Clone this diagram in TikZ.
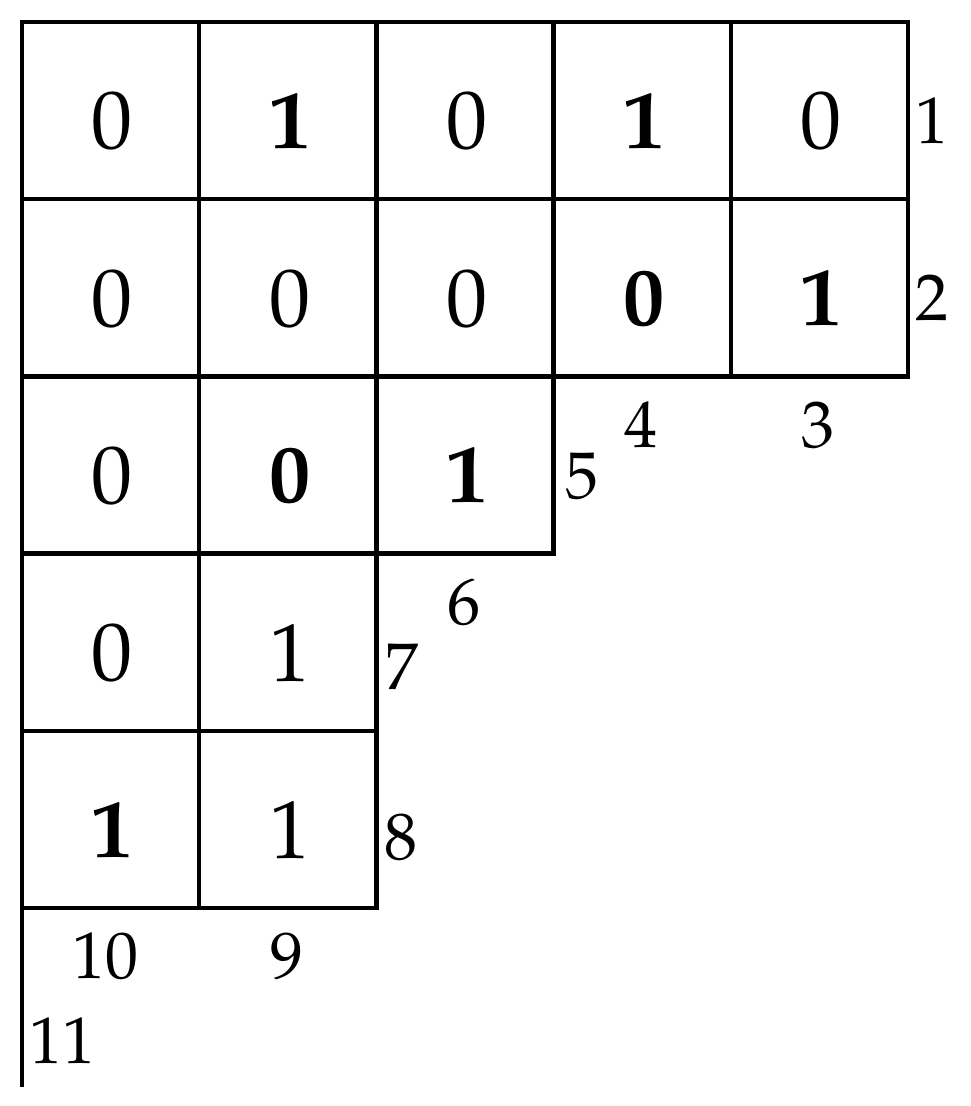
\documentclass[tikz,border=0pt]{standalone}
\usepackage[T1]{fontenc}
\usepackage{mathpazo}
\usepackage{tikz}
\usetikzlibrary{positioning}
\tikzstyle{cell} = [inner sep=0pt, font=\fontsize{13.2}{15}\selectfont]
\tikzstyle{hit} = [cell, font=\fontsize{13.2}{15}\selectfont\bfseries]
\tikzstyle{edgelabel} = [inner sep=0pt, font=\fontsize{10.6}{12}\selectfont]
\tikzstyle{rim} = [line width=0.7pt, line cap=rect]

\begin{document}
\begin{tikzpicture}
		\useasboundingbox (-0.124,0.124) rectangle (5.350,-6.117);
		
		% shape of the diagram
		\draw [rim] (0,0) -- (5,0) -- (5,-2) -- (3,-2) -- (3,-3) -- (2,-3) -- (2,-5) -- (0,-5);
		\draw [rim] (0,0) -- (0,-6);
		\draw [rim] (0,-1) -- (5,-1);
		\draw [rim] (0,-2) -- (3,-2);
		\draw [rim] (0,-3) -- (2,-3);
		\draw [rim] (0,-4) -- (2,-4);
		\draw [rim] (1,0) -- (1,-5);
		\draw [rim] (2,0) -- (2,-3);
		\draw [rim] (3,0) -- (3,-2);
		\draw [rim] (4,0) -- (4,-2);
		
		% entries
		\node (c11) [cell] at (0.51,-0.56) {0};
		\node (c12) [hit] at (1.51,-0.56) {1};
		\node (c13) [cell] at (2.51,-0.56) {0};
		\node (c14) [hit] at (3.51,-0.56) {1};
		\node (c15) [cell] at (4.51,-0.56) {0};
		\node (c21) [cell] at (0.51,-1.56) {0};
		\node (c22) [cell] at (1.51,-1.56) {0};
		\node (c23) [cell] at (2.51,-1.56) {0};
		\node (c24) [hit] at (3.51,-1.56) {0};
		\node (c25) [hit] at (4.51,-1.56) {1};
		\node (c31) [cell] at (0.51,-2.56) {0};
		\node (c32) [hit] at (1.51,-2.56) {0};
		\node (c33) [hit] at (2.51,-2.56) {1};
		\node (c41) [cell] at (0.51,-3.56) {0};
		\node (c42) [cell] at (1.51,-3.56) {1};
		\node (c51) [hit] at (0.51,-4.56) {1};
		\node (c52) [cell] at (1.51,-4.56) {1};
		
		% steps of the rim
		\node (s1) [edgelabel] at (5.135,-0.559) {1};
		\node (s2) [edgelabel] at (5.135,-1.558) {2};
		\node (s3) [edgelabel] at (4.492,-2.274) {3};
		\node (s4) [edgelabel] at (3.493,-2.274) {4};
		\node (s5) [edgelabel] at (3.160,-2.562) {5};
		\node (s6) [edgelabel] at (2.494,-3.273) {6};
		\node (s7) [edgelabel] at (2.144,-3.640) {7};
		\node (s8) [edgelabel] at (2.139,-4.599) {8};
		\node (s9) [edgelabel] at (1.495,-5.271) {9};
		\node (s10) [edgelabel] at (0.474,-5.271) {10};
		\node (s11) [edgelabel] at (0.226,-5.751) {11};
		
	\end{tikzpicture}
\end{document}
